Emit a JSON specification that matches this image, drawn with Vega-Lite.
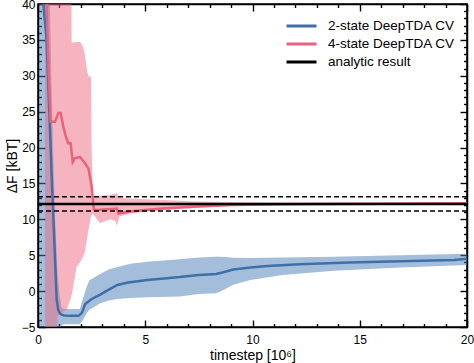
{
  "$schema": "https://vega.github.io/schema/vega-lite/v6.json",
  "width": 429,
  "height": 323,
  "autosize": {"type": "none"},
  "padding": {"left": 38, "top": 4, "right": 7, "bottom": 36},
  "background": "white",
  "config": {
    "view": {"stroke": "black", "strokeWidth": 1.5},
    "font": "Liberation Sans",
    "axis": {"grid": false, "domainColor": "black", "domainWidth": 1.5, "tickColor": "black", "tickWidth": 1.4, "labelColor": "black", "titleColor": "black", "labelFont": "Liberation Sans", "titleFont": "Liberation Sans", "labelFontSize": 12, "titleFontSize": 14, "titleFontWeight": "normal", "labelOverlap": false, "labelFlush": false}
  },
  "datasets": {
    "lines": [
      {"series": "2-state DeepTDA CV", "x": 0.18, "y": 45},
      {"series": "2-state DeepTDA CV", "x": 0.25, "y": 40},
      {"series": "2-state DeepTDA CV", "x": 0.4, "y": 35},
      {"series": "2-state DeepTDA CV", "x": 0.53, "y": 25},
      {"series": "2-state DeepTDA CV", "x": 0.65, "y": 15},
      {"series": "2-state DeepTDA CV", "x": 0.72, "y": 10},
      {"series": "2-state DeepTDA CV", "x": 0.8, "y": 4},
      {"series": "2-state DeepTDA CV", "x": 0.87, "y": -1.2},
      {"series": "2-state DeepTDA CV", "x": 0.95, "y": -2.7},
      {"series": "2-state DeepTDA CV", "x": 1.05, "y": -3.2},
      {"series": "2-state DeepTDA CV", "x": 1.2, "y": -3.4},
      {"series": "2-state DeepTDA CV", "x": 1.5, "y": -3.45},
      {"series": "2-state DeepTDA CV", "x": 1.9, "y": -3.45},
      {"series": "2-state DeepTDA CV", "x": 2.05, "y": -3.0},
      {"series": "2-state DeepTDA CV", "x": 2.2, "y": -1.8},
      {"series": "2-state DeepTDA CV", "x": 2.5, "y": -1.1},
      {"series": "2-state DeepTDA CV", "x": 2.9, "y": -0.5},
      {"series": "2-state DeepTDA CV", "x": 3.3, "y": 0.2},
      {"series": "2-state DeepTDA CV", "x": 3.7, "y": 0.86},
      {"series": "2-state DeepTDA CV", "x": 4.2, "y": 1.2},
      {"series": "2-state DeepTDA CV", "x": 5.1, "y": 1.55},
      {"series": "2-state DeepTDA CV", "x": 6.0, "y": 1.8},
      {"series": "2-state DeepTDA CV", "x": 6.6, "y": 1.95},
      {"series": "2-state DeepTDA CV", "x": 7.5, "y": 2.25},
      {"series": "2-state DeepTDA CV", "x": 8.3, "y": 2.4},
      {"series": "2-state DeepTDA CV", "x": 8.6, "y": 2.6},
      {"series": "2-state DeepTDA CV", "x": 9.1, "y": 3.0},
      {"series": "2-state DeepTDA CV", "x": 9.9, "y": 3.3},
      {"series": "2-state DeepTDA CV", "x": 10.7, "y": 3.5},
      {"series": "2-state DeepTDA CV", "x": 12.2, "y": 3.75},
      {"series": "2-state DeepTDA CV", "x": 14.5, "y": 4.0},
      {"series": "2-state DeepTDA CV", "x": 16.9, "y": 4.15},
      {"series": "2-state DeepTDA CV", "x": 19.4, "y": 4.35},
      {"series": "2-state DeepTDA CV", "x": 20, "y": 4.5},
      {"series": "4-state DeepTDA CV", "x": 0.37, "y": 43},
      {"series": "4-state DeepTDA CV", "x": 0.42, "y": 38},
      {"series": "4-state DeepTDA CV", "x": 0.5, "y": 30},
      {"series": "4-state DeepTDA CV", "x": 0.59, "y": 23.6},
      {"series": "4-state DeepTDA CV", "x": 0.79, "y": 23.6},
      {"series": "4-state DeepTDA CV", "x": 0.95, "y": 24.8},
      {"series": "4-state DeepTDA CV", "x": 1.06, "y": 24.8},
      {"series": "4-state DeepTDA CV", "x": 1.18, "y": 22.9},
      {"series": "4-state DeepTDA CV", "x": 1.3, "y": 21.5},
      {"series": "4-state DeepTDA CV", "x": 1.41, "y": 20.6},
      {"series": "4-state DeepTDA CV", "x": 1.52, "y": 20.6},
      {"series": "4-state DeepTDA CV", "x": 1.62, "y": 18.0},
      {"series": "4-state DeepTDA CV", "x": 1.72, "y": 18.5},
      {"series": "4-state DeepTDA CV", "x": 1.96, "y": 18.7},
      {"series": "4-state DeepTDA CV", "x": 2.19, "y": 17.8},
      {"series": "4-state DeepTDA CV", "x": 2.35, "y": 17.1},
      {"series": "4-state DeepTDA CV", "x": 2.5, "y": 14.6},
      {"series": "4-state DeepTDA CV", "x": 2.6, "y": 11.4},
      {"series": "4-state DeepTDA CV", "x": 2.7, "y": 11.3},
      {"series": "4-state DeepTDA CV", "x": 3.68, "y": 11.5},
      {"series": "4-state DeepTDA CV", "x": 3.75, "y": 10.8},
      {"series": "4-state DeepTDA CV", "x": 4.3, "y": 11.1},
      {"series": "4-state DeepTDA CV", "x": 5.0, "y": 11.3},
      {"series": "4-state DeepTDA CV", "x": 5.8, "y": 11.5},
      {"series": "4-state DeepTDA CV", "x": 7.4, "y": 11.8},
      {"series": "4-state DeepTDA CV", "x": 9.0, "y": 12.0},
      {"series": "4-state DeepTDA CV", "x": 12.0, "y": 12.1},
      {"series": "4-state DeepTDA CV", "x": 20, "y": 12.25}
    ],
    "bands": [
      {"series": "2-state DeepTDA CV", "x": 0.05, "lo": -6, "hi": 46},
      {"series": "2-state DeepTDA CV", "x": 0.55, "lo": -6, "hi": 41},
      {"series": "2-state DeepTDA CV", "x": 0.62, "lo": -6, "hi": 30},
      {"series": "2-state DeepTDA CV", "x": 0.7, "lo": -6, "hi": 20},
      {"series": "2-state DeepTDA CV", "x": 0.8, "lo": -6, "hi": 10},
      {"series": "2-state DeepTDA CV", "x": 0.9, "lo": -6, "hi": 3},
      {"series": "2-state DeepTDA CV", "x": 1.0, "lo": -5.5, "hi": -0.5},
      {"series": "2-state DeepTDA CV", "x": 1.1, "lo": -4.8, "hi": -2.3},
      {"series": "2-state DeepTDA CV", "x": 1.2, "lo": -4.6, "hi": -2.5},
      {"series": "2-state DeepTDA CV", "x": 1.95, "lo": -4.6, "hi": -2.5},
      {"series": "2-state DeepTDA CV", "x": 2.1, "lo": -4.0, "hi": -1.0},
      {"series": "2-state DeepTDA CV", "x": 2.27, "lo": -3.1, "hi": 0.6},
      {"series": "2-state DeepTDA CV", "x": 2.4, "lo": -2.6, "hi": 1.5},
      {"series": "2-state DeepTDA CV", "x": 2.9, "lo": -1.7, "hi": 2.4},
      {"series": "2-state DeepTDA CV", "x": 3.3, "lo": -1.3, "hi": 3.0},
      {"series": "2-state DeepTDA CV", "x": 3.7, "lo": -1.1, "hi": 3.35},
      {"series": "2-state DeepTDA CV", "x": 4.3, "lo": -0.95, "hi": 3.8},
      {"series": "2-state DeepTDA CV", "x": 5.1, "lo": -0.85, "hi": 4.1},
      {"series": "2-state DeepTDA CV", "x": 6.6, "lo": -0.75, "hi": 4.45},
      {"series": "2-state DeepTDA CV", "x": 7.5, "lo": -0.4, "hi": 4.7},
      {"series": "2-state DeepTDA CV", "x": 8.3, "lo": -0.3, "hi": 4.8},
      {"series": "2-state DeepTDA CV", "x": 8.5, "lo": -0.05, "hi": 4.8},
      {"series": "2-state DeepTDA CV", "x": 8.8, "lo": 0.4, "hi": 4.75},
      {"series": "2-state DeepTDA CV", "x": 9.1, "lo": 0.9, "hi": 4.65},
      {"series": "2-state DeepTDA CV", "x": 9.9, "lo": 1.55, "hi": 4.6},
      {"series": "2-state DeepTDA CV", "x": 11.4, "lo": 2.25, "hi": 4.7},
      {"series": "2-state DeepTDA CV", "x": 13.8, "lo": 2.85, "hi": 4.8},
      {"series": "2-state DeepTDA CV", "x": 16.9, "lo": 3.3, "hi": 5.0},
      {"series": "2-state DeepTDA CV", "x": 20, "lo": 3.65, "hi": 5.2},
      {"series": "4-state DeepTDA CV", "x": 0.33, "lo": -6, "hi": 46},
      {"series": "4-state DeepTDA CV", "x": 0.87, "lo": -6, "hi": 46},
      {"series": "4-state DeepTDA CV", "x": 0.9, "lo": -3.5, "hi": 46},
      {"series": "4-state DeepTDA CV", "x": 1.1, "lo": -3.0, "hi": 46},
      {"series": "4-state DeepTDA CV", "x": 1.34, "lo": -2.6, "hi": 46},
      {"series": "4-state DeepTDA CV", "x": 1.55, "lo": -0.8, "hi": 46},
      {"series": "4-state DeepTDA CV", "x": 1.57, "lo": -0.6, "hi": 34.6},
      {"series": "4-state DeepTDA CV", "x": 1.8, "lo": 3.4, "hi": 34.7},
      {"series": "4-state DeepTDA CV", "x": 1.96, "lo": 4.0, "hi": 34.75},
      {"series": "4-state DeepTDA CV", "x": 2.1, "lo": 4.8, "hi": 34.0},
      {"series": "4-state DeepTDA CV", "x": 2.19, "lo": 5.5, "hi": 32.9},
      {"series": "4-state DeepTDA CV", "x": 2.27, "lo": 7.1, "hi": 31.0},
      {"series": "4-state DeepTDA CV", "x": 2.35, "lo": 8.5, "hi": 29.9},
      {"series": "4-state DeepTDA CV", "x": 2.47, "lo": 10.4, "hi": 29.9},
      {"series": "4-state DeepTDA CV", "x": 2.5, "lo": 10.6, "hi": 20},
      {"series": "4-state DeepTDA CV", "x": 2.55, "lo": 10.8, "hi": 13.2},
      {"series": "4-state DeepTDA CV", "x": 2.89, "lo": 9.45, "hi": 13.3},
      {"series": "4-state DeepTDA CV", "x": 3.36, "lo": 10.0, "hi": 13.4},
      {"series": "4-state DeepTDA CV", "x": 3.6, "lo": 9.8, "hi": 13.6},
      {"series": "4-state DeepTDA CV", "x": 3.67, "lo": 9.1, "hi": 13.6},
      {"series": "4-state DeepTDA CV", "x": 3.8, "lo": 10.4, "hi": 13.0},
      {"series": "4-state DeepTDA CV", "x": 4.3, "lo": 10.85, "hi": 12.9},
      {"series": "4-state DeepTDA CV", "x": 5.8, "lo": 11.3, "hi": 12.7},
      {"series": "4-state DeepTDA CV", "x": 7.4, "lo": 11.6, "hi": 12.5},
      {"series": "4-state DeepTDA CV", "x": 10.0, "lo": 12.0, "hi": 12.35},
      {"series": "4-state DeepTDA CV", "x": 20, "lo": 12.1, "hi": 12.35}
    ],
    "analytic": [{"series": "analytic result", "y": 12.15}],
    "dashed": [{"y": 13.15}, {"y": 11.15}]
  },
  "layer": [
    {
      "data": {"name": "bands"},
      "transform": [{"filter": "datum.series === '2-state DeepTDA CV'"}],
      "mark": {"type": "area", "clip": true, "color": "#4a7cb5", "opacity": 0.5},
      "encoding": {
        "x": {"field": "x", "type": "quantitative", "scale": {"domain": [0, 20], "nice": false, "zero": false},
          "axis": {"orient": "bottom", "values": [0,1,2,3,4,5,6,7,8,9,10,11,12,13,14,15,16,17,18,19,20],
            "labelExpr": "datum.value % 5 === 0 ? datum.label : ''",
            "tickSize": {"condition": {"test": "datum.value % 5 === 0", "value": -7}, "value": -3.5},
            "labelPadding": 14, "title": "timestep [10⁶]", "titlePadding": 0}},
        "y": {"field": "lo", "type": "quantitative", "scale": {"domain": [-5, 40], "nice": false, "zero": false},
          "axis": {"orient": "left", "values": [-5,-4,-3,-2,-1,0,1,2,3,4,5,6,7,8,9,10,11,12,13,14,15,16,17,18,19,20,21,22,23,24,25,26,27,28,29,30,31,32,33,34,35,36,37,38,39,40],
            "labelExpr": "datum.value % 5 === 0 ? datum.label : ''",
            "tickSize": {"condition": {"test": "datum.value % 5 === 0", "value": -7}, "value": -3.5},
            "labelPadding": 10, "title": "ΔF [kBT]", "titlePadding": 2}},
        "y2": {"field": "hi"}
      }
    },
    {
      "data": {"name": "bands"},
      "transform": [{"filter": "datum.series === '4-state DeepTDA CV'"}],
      "mark": {"type": "area", "clip": true, "color": "#ec6a80", "opacity": 0.5},
      "encoding": {
        "x": {"field": "x", "type": "quantitative",
          "axis": {"orient": "top", "values": [0,1,2,3,4,5,6,7,8,9,10,11,12,13,14,15,16,17,18,19,20],
            "labels": false, "title": null,
            "tickSize": {"condition": {"test": "datum.value % 5 === 0", "value": -7}, "value": -3.5}}},
        "y": {"field": "lo", "type": "quantitative",
          "axis": {"orient": "right", "values": [-5,-4,-3,-2,-1,0,1,2,3,4,5,6,7,8,9,10,11,12,13,14,15,16,17,18,19,20,21,22,23,24,25,26,27,28,29,30,31,32,33,34,35,36,37,38,39,40],
            "labels": false, "title": null,
            "tickSize": {"condition": {"test": "datum.value % 5 === 0", "value": -7}, "value": -3.5}}},
        "y2": {"field": "hi"}
      }
    },
    {
      "data": {"name": "lines"},
      "mark": {"type": "line", "clip": true, "strokeWidth": 2.5},
      "encoding": {
        "x": {"field": "x", "type": "quantitative", "axis": null},
        "y": {"field": "y", "type": "quantitative", "axis": null},
        "color": {"field": "series", "type": "nominal",
          "scale": {"domain": ["2-state DeepTDA CV", "4-state DeepTDA CV", "analytic result"], "range": ["#3f6fa8", "#e8627a", "#000000"]},
          "legend": {"title": null, "orient": "none", "legendX": 252, "legendY": 10.5, "padding": 0,
            "symbolType": "M-1.5,0H1.5", "symbolSize": 400, "symbolStrokeWidth": 3,
            "labelFont": "Liberation Sans", "labelFontSize": 13.5, "labelColor": "black", "labelOffset": 15, "rowPadding": 0, "labelLimit": 300}}
      }
    },
    {
      "data": {"name": "dashed"},
      "mark": {"type": "rule", "color": "black", "strokeWidth": 1.5, "strokeDash": [5, 3]},
      "encoding": {"y": {"field": "y", "type": "quantitative", "axis": null}}
    },
    {
      "data": {"name": "analytic"},
      "mark": {"type": "rule", "strokeWidth": 2.5},
      "encoding": {
        "y": {"field": "y", "type": "quantitative", "axis": null},
        "color": {"field": "series", "type": "nominal"}
      }
    }
  ],
  "resolve": {"axis": {"x": "independent", "y": "independent"}}
}
